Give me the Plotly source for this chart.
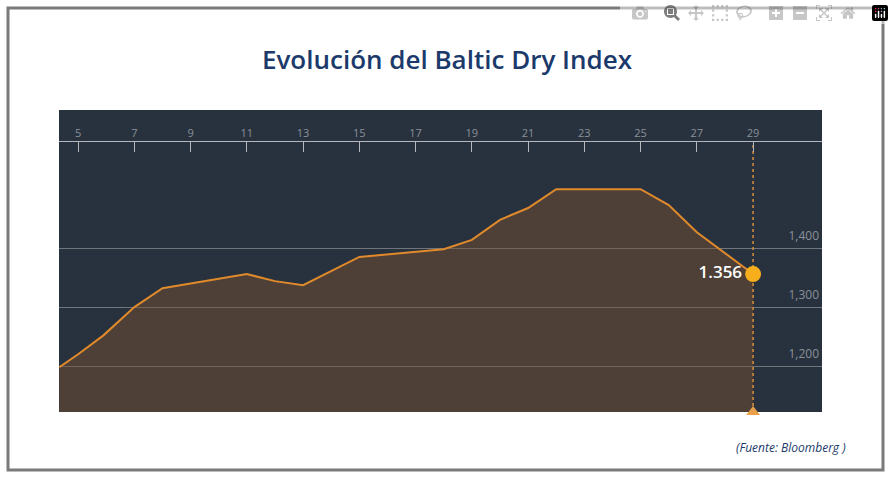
"""Evolución del Baltic Dry Index."""

import plotly.graph_objects as go

# data
days = [4.33, 5, 5.9, 7, 8, 9, 11, 12, 13, 15, 17, 18, 19, 20, 21, 22, 25, 26, 27, 29]
bdi = [1198, 1220, 1252, 1300, 1332, 1340, 1356, 1344, 1337, 1385, 1393, 1398,
       1414, 1448, 1468, 1500, 1500, 1473, 1427, 1356]
x_ticks = [5, 7, 9, 11, 13, 15, 17, 19, 21, 23, 25, 27, 29]
y_ticks = [1200, 1300, 1400]
last_day, last_value = days[-1], bdi[-1]

W, H = 894, 480
BG = "#28323e"
NAVY = "#1b3a6b"
y_range = [1122, 1580]

fig = go.Figure()
fig.add_trace(
    go.Scatter(
        x=days, y=bdi, mode="lines",
        line=dict(color="#e08a2c", width=2),
        fill="tozeroy", fillcolor="rgba(125,82,47,0.45)",
        hoverinfo="skip",
    )
)
fig.add_trace(
    go.Scatter(
        x=[last_day, last_day], y=[y_range[0], 1580], mode="lines",
        line=dict(color="#d98f3a", width=1.5, dash="dot"),
        hoverinfo="skip",
    )
)
fig.add_trace(
    go.Scatter(
        x=[last_day], y=[y_range[0]], mode="markers",
        marker=dict(symbol="triangle-up", size=12, color="#e8a04a"),
        cliponaxis=False,
    )
)
fig.add_trace(
    go.Scatter(
        x=[last_day], y=[last_value], mode="markers+text",
        marker=dict(size=16, color="#f6ae1c"),
        text=[f"{last_value:,}".replace(",", ".")],
        textposition="middle left",
        textfont=dict(color="white", size=17, family="Open Sans", weight=600),
        cliponaxis=False,
    )
)

x0, x1 = 59 / W, 822 / W
fig.update_layout(
    width=W, height=H,
    margin=dict(l=0, r=0, t=0, b=0),
    paper_bgcolor="white", plot_bgcolor=BG,
    showlegend=False,
    title=dict(
        text="Evolución del Baltic Dry Index", x=0.5, xanchor="center",
        y=1 - 60 / H, yanchor="middle",
        font=dict(size=26, color=NAVY, family="Open Sans", weight=600),
    ),
    xaxis=dict(
        domain=[x0, x1], range=[4.32, 31.45], side="top",
        tickvals=x_ticks, ticks="inside", ticklen=10, tickcolor="#b5b9bf",
        showline=True, linecolor="#b5b9bf", linewidth=1,
        showgrid=False, zeroline=False,
        tickfont=dict(size=11, color="#8a9099"),
    ),
    yaxis=dict(
        domain=[(H - 412) / H, (H - 142) / H], range=y_range, side="right",
        tickvals=y_ticks, tickformat=",", ticks="",
        ticklabelposition="inside", ticklabelshift=-12,
        showgrid=True, gridcolor="rgba(200,200,200,0.45)", gridwidth=1,
        zeroline=False, showline=False,
        tickfont=dict(size=12, color="#8a9099"),
    ),
    shapes=[
        dict(type="rect", xref="paper", yref="paper",
             x0=x0, x1=x1, y0=(H - 142) / H, y1=(H - 110) / H,
             fillcolor=BG, line=dict(width=0), layer="below"),
        dict(type="rect", xref="paper", yref="paper",
             x0=8 / W, x1=883 / W, y0=(H - 470) / H, y1=(H - 8) / H,
             line=dict(color="#7a7a7a", width=3)),
    ],
    annotations=[
        dict(text="<i>(Fuente: Bloomberg )</i>", xref="paper", yref="paper",
             x=848 / W, y=(H - 447) / H, xanchor="right", yanchor="middle",
             showarrow=False, font=dict(size=12, color=NAVY, family="Open Sans")),
    ],
)

fig.write_html("out.html")

# drop the browser's default body margin so the figure sits at the page corner
with open("out.html", encoding="utf-8") as f:
    page = f.read()
page = page.replace("<body>", '<body style="margin:0">', 1)
with open("out.html", "w", encoding="utf-8") as f:
    f.write(page)
